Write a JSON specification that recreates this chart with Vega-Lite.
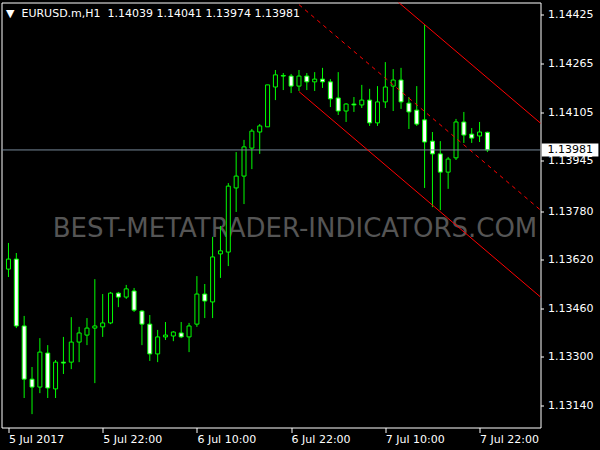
{
  "$schema": "https://vega.github.io/schema/vega-lite/v6.json",
  "background": "#000000",
  "autosize": "none",
  "padding": {"left": 1.5, "top": 2.5, "right": 59.5, "bottom": 22.5},
  "width": 539,
  "height": 425,
  "title": {
    "text": "▼\u00a0\u00a0EURUSD.m,H1\u00a0\u00a01.14039 1.14041 1.13974 1.13981",
    "anchor": "start", "frame": "group", "orient": "top", "offset": -25, "dx": 4.5,
    "baseline": "alphabetic", "color": "#ffffff", "fontSize": 11, "fontWeight": "normal", "font": "DejaVu Sans"
  },
  "datasets": {
    "candles": [
      {"t": "2017-07-05T10:00:00Z", "o": 1.13589, "h": 1.13675, "l": 1.13563, "c": 1.13622},
      {"t": "2017-07-05T11:00:00Z", "o": 1.13622, "h": 1.13642, "l": 1.13395, "c": 1.13402},
      {"t": "2017-07-05T12:00:00Z", "o": 1.13402, "h": 1.13435, "l": 1.13165, "c": 1.13227},
      {"t": "2017-07-05T13:00:00Z", "o": 1.13227, "h": 1.13267, "l": 1.13112, "c": 1.13201},
      {"t": "2017-07-05T14:00:00Z", "o": 1.13201, "h": 1.13362, "l": 1.13181, "c": 1.13316},
      {"t": "2017-07-05T15:00:00Z", "o": 1.13313, "h": 1.13339, "l": 1.13165, "c": 1.13198},
      {"t": "2017-07-05T16:00:00Z", "o": 1.13195, "h": 1.13290, "l": 1.13165, "c": 1.13283},
      {"t": "2017-07-05T17:00:00Z", "o": 1.13283, "h": 1.13366, "l": 1.13244, "c": 1.13280},
      {"t": "2017-07-05T18:00:00Z", "o": 1.13283, "h": 1.13431, "l": 1.13260, "c": 1.13349},
      {"t": "2017-07-05T19:00:00Z", "o": 1.13349, "h": 1.13399, "l": 1.13283, "c": 1.13379},
      {"t": "2017-07-05T20:00:00Z", "o": 1.13372, "h": 1.13428, "l": 1.13339, "c": 1.13395},
      {"t": "2017-07-05T21:00:00Z", "o": 1.13395, "h": 1.13556, "l": 1.13214, "c": 1.13402},
      {"t": "2017-07-05T22:00:00Z", "o": 1.13399, "h": 1.13507, "l": 1.13366, "c": 1.13412},
      {"t": "2017-07-05T23:00:00Z", "o": 1.13412, "h": 1.13514, "l": 1.13408, "c": 1.13510},
      {"t": "2017-07-06T00:00:00Z", "o": 1.13510, "h": 1.13514, "l": 1.13464, "c": 1.13497},
      {"t": "2017-07-06T01:00:00Z", "o": 1.13497, "h": 1.13537, "l": 1.13491, "c": 1.13524},
      {"t": "2017-07-06T02:00:00Z", "o": 1.13517, "h": 1.13527, "l": 1.13448, "c": 1.13454},
      {"t": "2017-07-06T03:00:00Z", "o": 1.13451, "h": 1.13454, "l": 1.13339, "c": 1.13408},
      {"t": "2017-07-06T04:00:00Z", "o": 1.13408, "h": 1.13438, "l": 1.13287, "c": 1.13310},
      {"t": "2017-07-06T05:00:00Z", "o": 1.13310, "h": 1.13389, "l": 1.13283, "c": 1.13366},
      {"t": "2017-07-06T06:00:00Z", "o": 1.13366, "h": 1.13415, "l": 1.13356, "c": 1.13372},
      {"t": "2017-07-06T07:00:00Z", "o": 1.13369, "h": 1.13385, "l": 1.13352, "c": 1.13382},
      {"t": "2017-07-06T08:00:00Z", "o": 1.13379, "h": 1.13415, "l": 1.13362, "c": 1.13366},
      {"t": "2017-07-06T09:00:00Z", "o": 1.13366, "h": 1.13412, "l": 1.13316, "c": 1.13402},
      {"t": "2017-07-06T10:00:00Z", "o": 1.13408, "h": 1.13566, "l": 1.13399, "c": 1.13507},
      {"t": "2017-07-06T11:00:00Z", "o": 1.13507, "h": 1.13540, "l": 1.13428, "c": 1.13484},
      {"t": "2017-07-06T12:00:00Z", "o": 1.13481, "h": 1.13695, "l": 1.13428, "c": 1.13629},
      {"t": "2017-07-06T13:00:00Z", "o": 1.13639, "h": 1.13731, "l": 1.13560, "c": 1.13649},
      {"t": "2017-07-06T14:00:00Z", "o": 1.13645, "h": 1.13872, "l": 1.13599, "c": 1.13862},
      {"t": "2017-07-06T15:00:00Z", "o": 1.13856, "h": 1.13974, "l": 1.13777, "c": 1.13895},
      {"t": "2017-07-06T16:00:00Z", "o": 1.13895, "h": 1.14014, "l": 1.13803, "c": 1.13991},
      {"t": "2017-07-06T17:00:00Z", "o": 1.13987, "h": 1.14050, "l": 1.13918, "c": 1.14043},
      {"t": "2017-07-06T18:00:00Z", "o": 1.14040, "h": 1.14066, "l": 1.13968, "c": 1.14060},
      {"t": "2017-07-06T19:00:00Z", "o": 1.14057, "h": 1.14195, "l": 1.14057, "c": 1.14195},
      {"t": "2017-07-06T20:00:00Z", "o": 1.14188, "h": 1.14244, "l": 1.14145, "c": 1.14228},
      {"t": "2017-07-06T21:00:00Z", "o": 1.14226, "h": 1.14234, "l": 1.14178, "c": 1.14224},
      {"t": "2017-07-06T22:00:00Z", "o": 1.14224, "h": 1.14231, "l": 1.14168, "c": 1.14191},
      {"t": "2017-07-06T23:00:00Z", "o": 1.14191, "h": 1.14244, "l": 1.14175, "c": 1.14224},
      {"t": "2017-07-07T00:00:00Z", "o": 1.14224, "h": 1.14234, "l": 1.14178, "c": 1.14205},
      {"t": "2017-07-07T01:00:00Z", "o": 1.14205, "h": 1.14237, "l": 1.14175, "c": 1.14214},
      {"t": "2017-07-07T02:00:00Z", "o": 1.14214, "h": 1.14251, "l": 1.14185, "c": 1.14205},
      {"t": "2017-07-07T03:00:00Z", "o": 1.14205, "h": 1.14214, "l": 1.14122, "c": 1.14149},
      {"t": "2017-07-07T04:00:00Z", "o": 1.14152, "h": 1.14237, "l": 1.14096, "c": 1.14109},
      {"t": "2017-07-07T05:00:00Z", "o": 1.14109, "h": 1.14135, "l": 1.14073, "c": 1.14132},
      {"t": "2017-07-07T06:00:00Z", "o": 1.14132, "h": 1.14155, "l": 1.14106, "c": 1.14129},
      {"t": "2017-07-07T07:00:00Z", "o": 1.14129, "h": 1.14195, "l": 1.14119, "c": 1.14145},
      {"t": "2017-07-07T08:00:00Z", "o": 1.14145, "h": 1.14182, "l": 1.14060, "c": 1.14070},
      {"t": "2017-07-07T09:00:00Z", "o": 1.14070, "h": 1.14191, "l": 1.14060, "c": 1.14139},
      {"t": "2017-07-07T10:00:00Z", "o": 1.14139, "h": 1.14270, "l": 1.14119, "c": 1.14188},
      {"t": "2017-07-07T11:00:00Z", "o": 1.14191, "h": 1.14247, "l": 1.14109, "c": 1.14211},
      {"t": "2017-07-07T12:00:00Z", "o": 1.14211, "h": 1.14251, "l": 1.14116, "c": 1.14139},
      {"t": "2017-07-07T13:00:00Z", "o": 1.14135, "h": 1.14155, "l": 1.14050, "c": 1.14106},
      {"t": "2017-07-07T14:00:00Z", "o": 1.14112, "h": 1.14191, "l": 1.14060, "c": 1.14066},
      {"t": "2017-07-07T15:00:00Z", "o": 1.14080, "h": 1.14392, "l": 1.13856, "c": 1.14007},
      {"t": "2017-07-07T16:00:00Z", "o": 1.14010, "h": 1.14040, "l": 1.13793, "c": 1.13968},
      {"t": "2017-07-07T17:00:00Z", "o": 1.13968, "h": 1.14010, "l": 1.13783, "c": 1.13908},
      {"t": "2017-07-07T18:00:00Z", "o": 1.13908, "h": 1.13958, "l": 1.13853, "c": 1.13951},
      {"t": "2017-07-07T19:00:00Z", "o": 1.13955, "h": 1.14083, "l": 1.13948, "c": 1.14073},
      {"t": "2017-07-07T20:00:00Z", "o": 1.14073, "h": 1.14106, "l": 1.14004, "c": 1.14030},
      {"t": "2017-07-07T21:00:00Z", "o": 1.14033, "h": 1.14053, "l": 1.14004, "c": 1.14020},
      {"t": "2017-07-07T22:00:00Z", "o": 1.14027, "h": 1.14073, "l": 1.14007, "c": 1.14040},
      {"t": "2017-07-07T23:00:00Z", "o": 1.14039, "h": 1.14041, "l": 1.13974, "c": 1.13981}
    ],
    "channel": [
      {"s": "upper", "t": "2017-07-06T23:00:00Z", "p": 1.14745},
      {"s": "upper", "t": "2017-07-08T06:00:00Z", "p": 1.14064},
      {"s": "mid", "t": "2017-07-06T23:00:00Z", "p": 1.14459},
      {"s": "mid", "t": "2017-07-08T06:00:00Z", "p": 1.13778},
      {"s": "lower", "t": "2017-07-06T23:00:00Z", "p": 1.14173},
      {"s": "lower", "t": "2017-07-08T06:00:00Z", "p": 1.13492}
    ],
    "bid": [{"p": 1.13981}],
    "mark": [{"w": "BEST-METATRADER-INDICATORS.COM"}]
  },
  "layer": [
    {
      "data": {"name": "mark"},
      "mark": {"type": "text", "x": {"expr": "width*0.5445"}, "y": {"expr": "height*0.534"}, "align": "center", "baseline": "middle", "fontSize": 26, "font": "DejaVu Sans", "color": "#555555"},
      "encoding": {"text": {"field": "w"}}
    },
    {
      "data": {"name": "candles"},
      "mark": {"type": "rule", "color": "#00ff00", "strokeWidth": 1},
      "encoding": {
        "x": {
          "field": "t", "type": "temporal", "title": null,
          "scale": {"type": "utc", "domain": [
            {"year": 2017, "month": 7, "date": 5, "hours": 9, "minutes": 45, "utc": true},
            {"year": 2017, "month": 7, "date": 8, "hours": 5, "minutes": 7, "seconds": 30, "utc": true}
          ]},
          "axis": {
            "values": [
              {"year": 2017, "month": 7, "date": 5, "hours": 10, "utc": true},
              {"year": 2017, "month": 7, "date": 5, "hours": 22, "utc": true},
              {"year": 2017, "month": 7, "date": 6, "hours": 10, "utc": true},
              {"year": 2017, "month": 7, "date": 6, "hours": 22, "utc": true},
              {"year": 2017, "month": 7, "date": 7, "hours": 10, "utc": true},
              {"year": 2017, "month": 7, "date": 7, "hours": 22, "utc": true}
            ],
            "labelExpr": "utcFormat(datum.value, (utcdate(datum.value) == 5 && utchours(datum.value) == 10) ? '%-d %b %Y' : '%-d %b %H:%M')",
            "labelAlign": "left", "labelBaseline": "top", "tickSize": 5, "labelPadding": 1
          }
        },
        "y": {
          "field": "l", "type": "quantitative", "title": null,
          "scale": {"domain": [1.13068, 1.14466], "zero": false, "nice": false},
          "axis": {
            "orient": "right",
            "values": [1.1314, 1.133, 1.1346, 1.1362, 1.1378, 1.13945, 1.14105, 1.14265, 1.14425],
            "format": ".5f", "tickSize": 3, "labelPadding": 4, "labelAlign": "left", "labelBaseline": "middle"
          }
        },
        "y2": {"field": "h"}
      }
    },
    {
      "data": {"name": "candles"},
      "mark": {"type": "bar", "width": 4, "stroke": "#00ff00", "strokeWidth": 1},
      "encoding": {
        "x": {"field": "t", "type": "temporal", "title": null},
        "y": {"field": "o", "type": "quantitative", "title": null},
        "y2": {"field": "c"},
        "fill": {"condition": {"test": "datum.c < datum.o", "value": "#ffffff"}, "value": "#000000"}
      }
    },
    {
      "data": {"name": "bid"},
      "mark": {"type": "rule", "color": "#778899", "strokeWidth": 1},
      "encoding": {"y": {"field": "p", "type": "quantitative", "title": null}}
    },
    {
      "data": {"name": "channel"},
      "transform": [{"filter": "datum.s != 'mid'"}],
      "mark": {"type": "line", "color": "#ff0000", "strokeWidth": 1, "clip": true},
      "encoding": {
        "x": {"field": "t", "type": "temporal", "title": null},
        "y": {"field": "p", "type": "quantitative", "title": null},
        "detail": {"field": "s"}
      }
    },
    {
      "data": {"name": "channel"},
      "transform": [{"filter": "datum.s == 'mid'"}],
      "mark": {"type": "line", "color": "#ff0000", "strokeWidth": 1, "strokeDash": [4, 4], "clip": true},
      "encoding": {
        "x": {"field": "t", "type": "temporal", "title": null},
        "y": {"field": "p", "type": "quantitative", "title": null}
      }
    },
    {
      "data": {"name": "bid"},
      "mark": {"type": "point", "shape": "M0.04,-0.217H1.93V0.217H0.04Z", "size": 3600, "filled": true, "fill": "#ffffff", "opacity": 1, "strokeWidth": 0},
      "encoding": {
        "x": {"value": "width"},
        "y": {"field": "p", "type": "quantitative", "title": null}
      }
    },
    {
      "data": {"name": "bid"},
      "mark": {"type": "text", "align": "left", "baseline": "middle", "dx": 7, "fontSize": 11, "font": "DejaVu Sans", "color": "#000000"},
      "encoding": {
        "x": {"value": "width"},
        "y": {"field": "p", "type": "quantitative", "title": null},
        "text": {"field": "p", "format": ".5f"}
      }
    }
  ],
  "config": {
    "font": "DejaVu Sans",
    "view": {"stroke": "#ffffff", "strokeWidth": 1},
    "axis": {
      "grid": false, "domain": false, "tickColor": "#ffffff", "labelColor": "#ffffff",
      "labelFont": "DejaVu Sans", "labelFontSize": 11, "labelOverlap": false, "labelBound": false,
      "labelFlush": false, "zindex": 1
    }
  }
}
